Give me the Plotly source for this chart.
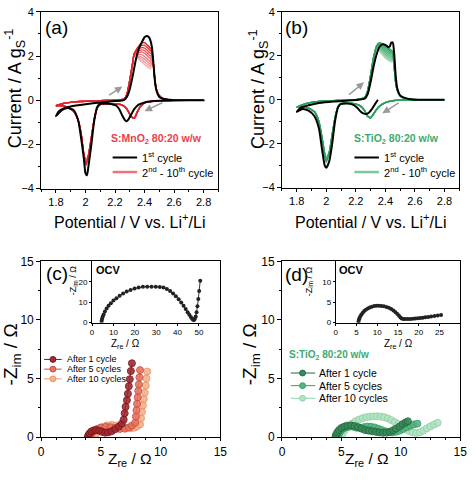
import plotly.graph_objects as go

# ---------------- DATA ----------------
# Panel (a): S:MnO2, 1st cycle
E_a1 = [2.80, 2.60, 2.50, 2.45, 2.40, 2.36, 2.33, 2.31, 2.29, 2.28, 2.27, 2.25, 2.23, 2.21, 2.18, 2.14, 2.10, 2.08,
        2.06, 2.04, 2.02, 2.01, 2.00, 1.99, 1.97, 1.95, 1.92, 1.88, 1.84, 1.80, 1.82, 1.86, 1.90, 2.00, 2.10, 2.20,
        2.26, 2.28, 2.30, 2.32, 2.34, 2.36, 2.38, 2.40, 2.41, 2.43, 2.44, 2.45, 2.46, 2.47, 2.48, 2.50, 2.55, 2.60, 2.80]
I_a1 = [0.0, -0.01, -0.03, -0.05, -0.1, -0.2, -0.4, -0.65, -0.88, -0.95, -0.92, -0.7, -0.42, -0.25, -0.18, -0.15,
        -0.17, -0.3, -0.9, -2.0, -3.0, -3.4, -3.3, -2.7, -1.7, -0.9, -0.45, -0.35, -0.45, -0.72, -0.5, -0.35, -0.28,
        -0.18, -0.1, -0.04, 0.0, 0.15, 0.5, 1.1, 1.8, 2.3, 2.6, 2.85, 2.9, 2.85, 2.7, 2.4, 1.7, 0.9, 0.45, 0.15,
        0.03, 0.0, 0.0]

# Panel (a): cycles 2-10, cathodic sweep (shared) with per-cycle 2.0 V peak
E_a_cath = [2.80, 2.60, 2.50, 2.45, 2.40, 2.37, 2.35, 2.33, 2.31, 2.29, 2.27, 2.24, 2.20, 2.15, 2.10, 2.08, 2.06,
            2.04, 2.02, 2.005, 1.99, 1.97, 1.95, 1.92, 1.88, 1.84, 1.80]
I_a_cath_head = [0.0, 0.0, -0.02, -0.05, -0.12, -0.3, -0.55, -0.82, -0.75, -0.5, -0.32, -0.2, -0.17, -0.16, -0.2,
                 -0.35, -0.85, -1.7, -2.5]
I_a_cath_tail = [-2.5, -1.5, -0.9, -0.5, -0.32, -0.25, -0.25]
a_peak_2V = [-2.95, -2.9, -2.85, -2.8, -2.76, -2.72, -2.68, -2.65, -2.62]
# anodic sweep: shared head / tail, per-cycle oxidation plateau
E_a_anod = [1.80, 1.85, 1.90, 2.00, 2.10, 2.20, 2.26, 2.28, 2.30, 2.32, 2.33,
            2.34, 2.36, 2.38, 2.40, 2.42, 2.44, 2.45,
            2.46, 2.47, 2.48, 2.50, 2.53, 2.58, 2.65, 2.80]
I_a_anod_head = [-0.25, -0.15, -0.1, -0.05, -0.02, 0.0, 0.05, 0.25, 0.9, 1.7, 2.1]
I_a_anod_tail = [1.6, 0.9, 0.5, 0.2, 0.06, 0.01, 0.0, 0.0]
a_plateau = [
    [2.25, 2.45, 2.58, 2.60, 2.50, 2.35, 2.25],
    [2.20, 2.38, 2.48, 2.48, 2.38, 2.24, 2.18],
    [2.18, 2.30, 2.38, 2.36, 2.25, 2.12, 2.12],
    [2.15, 2.22, 2.28, 2.24, 2.12, 2.00, 2.06],
    [2.12, 2.15, 2.18, 2.12, 2.00, 1.88, 2.00],
    [2.10, 2.08, 2.06, 1.98, 1.86, 1.75, 1.95],
    [2.08, 2.00, 1.95, 1.86, 1.74, 1.63, 1.90],
    [2.06, 1.93, 1.85, 1.74, 1.62, 1.52, 1.85],
    [2.04, 1.86, 1.74, 1.62, 1.50, 1.42, 1.80],
]

# Panel (b): S:TiO2, 1st cycle (starts at OCV)
E_b1 = [2.35, 2.33, 2.31, 2.29, 2.27, 2.25, 2.23, 2.21, 2.18, 2.14, 2.10, 2.08, 2.06, 2.04, 2.02, 2.00, 1.99, 1.97,
        1.95, 1.92, 1.88, 1.84, 1.80, 1.83, 1.88, 1.95, 2.05, 2.15, 2.22, 2.26, 2.28, 2.30, 2.32, 2.34, 2.36, 2.38,
        2.40, 2.42, 2.43, 2.44, 2.45, 2.46, 2.47, 2.48, 2.50, 2.55, 2.60, 2.80]
I_b1 = [0.0, -0.2, -0.42, -0.58, -0.65, -0.62, -0.52, -0.37, -0.22, -0.17, -0.19, -0.35, -0.95, -2.0, -2.8, -3.1,
        -3.0, -2.2, -1.3, -0.75, -0.5, -0.42, -0.55, -0.35, -0.25, -0.15, -0.08, -0.04, 0.0, 0.05, 0.25, 0.8, 1.5,
        2.05, 2.4, 2.52, 2.5, 2.4, 2.42, 2.6, 2.6, 2.1, 1.1, 0.55, 0.2, 0.05, 0.0, 0.0]

E_b_cath = [2.80, 2.60, 2.50, 2.45, 2.40, 2.36, 2.34, 2.32, 2.30, 2.28, 2.26, 2.23, 2.20, 2.15, 2.10, 2.08, 2.06,
            2.04, 2.02, 2.00, 1.99, 1.97, 1.95, 1.92, 1.88, 1.84, 1.80]
I_b_cath_head = [0.0, 0.0, -0.02, -0.05, -0.13, -0.3, -0.45, -0.65, -0.82, -0.75, -0.5, -0.28, -0.2, -0.16, -0.18,
                 -0.3, -0.8, -1.6, -2.4]
I_b_cath_tail = [-2.5, -1.7, -1.0, -0.55, -0.38, -0.32, -0.35]
b_peak_2V = [-2.85, -2.8, -2.76, -2.72, -2.7, -2.67, -2.65, -2.62, -2.6]
E_b_anod = [1.80, 1.85, 1.90, 2.00, 2.10, 2.20, 2.26, 2.28, 2.30, 2.32,
            2.34, 2.36, 2.38, 2.40, 2.42, 2.44, 2.45,
            2.46, 2.47, 2.48, 2.50, 2.53, 2.58, 2.65, 2.80]
I_b_anod_head = [-0.35, -0.2, -0.12, -0.06, -0.03, 0.0, 0.1, 0.4, 1.1, 1.9]
I_b_anod_tail = [1.5, 0.8, 0.45, 0.18, 0.05, 0.01, 0.0, 0.0]
b_plateau = [
    [2.45, 2.60, 2.55, 2.45, 2.35, 2.25, 2.20],
    [2.42, 2.55, 2.48, 2.38, 2.28, 2.18, 2.15],
    [2.40, 2.50, 2.42, 2.30, 2.20, 2.10, 2.10],
    [2.38, 2.45, 2.35, 2.22, 2.12, 2.02, 2.05],
    [2.36, 2.40, 2.28, 2.15, 2.04, 1.95, 2.00],
    [2.34, 2.35, 2.22, 2.08, 1.97, 1.88, 1.96],
    [2.32, 2.30, 2.16, 2.02, 1.90, 1.82, 1.92],
    [2.30, 2.25, 2.10, 1.96, 1.84, 1.77, 1.88],
    [2.28, 2.20, 2.05, 1.90, 1.80, 1.72, 1.85],
]

# Panel (c): EIS, S:MnO2
c1_x = [3.9, 3.95, 4.05, 4.2, 4.4, 4.6, 4.85, 5.1, 5.35, 5.6, 5.9, 6.2, 6.5, 6.75,
        6.91, 6.99, 7.07, 7.18, 7.26, 7.34, 7.42, 7.51, 7.6]
c1_y = [0.0, 0.15, 0.32, 0.48, 0.58, 0.6, 0.55, 0.45, 0.38, 0.4, 0.5, 0.68, 0.9, 1.15,
        1.49, 2.04, 2.59, 3.15, 3.7, 4.34, 4.94, 5.64, 6.3]
c5_x = [4.1, 4.2, 4.4, 4.7, 5.0, 5.4, 5.8, 6.2, 6.6, 7.0, 7.35, 7.6,
        7.87, 7.93, 7.98, 8.03, 8.08, 8.13, 8.18, 8.23, 8.28]
c5_y = [0.0, 0.25, 0.5, 0.7, 0.82, 0.88, 0.85, 0.78, 0.7, 0.72, 0.82, 0.98,
        1.22, 1.75, 2.3, 2.85, 3.4, 3.95, 4.5, 5.1, 5.72]
c10_x = [4.5, 4.6, 4.8, 5.1, 5.5, 5.9, 6.3, 6.7, 7.1, 7.5, 7.8, 8.05,
         8.28, 8.36, 8.44, 8.52, 8.6, 8.68, 8.76, 8.82, 8.88]
c10_y = [0.0, 0.3, 0.6, 0.85, 1.0, 1.05, 1.0, 0.9, 0.8, 0.75, 0.8, 0.92,
         1.08, 1.6, 2.15, 2.7, 3.25, 3.8, 4.4, 5.0, 5.6]
c_ocv_x = [4.4, 4.5, 4.7, 5.0, 5.4, 6.0, 6.8, 7.7, 8.8, 10.0, 11.4, 12.9, 14.5, 16.2, 18.0, 19.9, 21.8, 23.8, 25.8,
           27.8, 29.8, 31.7, 33.4, 35.0, 36.5, 37.9, 39.2, 40.5, 41.7, 42.8, 43.8, 44.7, 45.5, 46.2, 46.8, 47.3,
           47.7, 48.1, 48.5, 48.9, 49.3, 49.7, 50.1, 50.6]
c_ocv_y = [0.0, 1.0, 2.0, 3.0, 4.0, 5.4, 6.9, 8.2, 9.5, 10.8, 11.9, 13.1, 14.2, 15.2, 16.0, 16.7, 17.2, 17.5, 17.6,
           17.6, 17.5, 17.4, 17.2, 16.5, 15.5, 14.3, 12.9, 11.4, 9.8, 8.2, 6.6, 5.1, 3.8, 2.7, 1.9, 1.4, 1.3, 1.8,
           3.0, 5.0, 8.0, 11.5, 15.5, 20.5]

# Panel (d): EIS, S:TiO2
d1_x = [4.5, 4.55, 4.65, 4.8, 5.0, 5.25, 5.5, 5.8, 6.1, 6.4, 6.7, 7.0, 7.3, 7.6, 7.9, 8.2, 8.5, 8.8, 9.1, 9.35,
        9.6, 9.9, 10.15, 10.4, 10.6]
d1_y = [0.0, 0.2, 0.4, 0.6, 0.78, 0.9, 0.98, 1.0, 0.95, 0.85, 0.72, 0.6, 0.55, 0.5, 0.45, 0.4, 0.37, 0.38, 0.45,
        0.58, 0.72, 0.9, 1.1, 1.25, 1.35]
d5_x = [4.7, 4.75, 4.85, 5.0, 5.2, 5.45, 5.7, 6.0, 6.3, 6.6, 6.9, 7.2, 7.5, 7.8, 8.1, 8.4, 8.7, 9.0, 9.3, 9.6,
        9.9, 10.2, 10.5, 10.8, 11.1, 11.4]
d5_y = [0.0, 0.2, 0.4, 0.6, 0.75, 0.85, 0.9, 0.88, 0.8, 0.78, 0.85, 0.9, 0.88, 0.82, 0.72, 0.6, 0.5, 0.42, 0.4,
        0.45, 0.55, 0.7, 0.85, 0.98, 1.08, 1.15]
d10_x = [5.0, 5.1, 5.3, 5.6, 5.9, 6.2, 6.5, 6.8, 7.1, 7.4, 7.7, 8.0, 8.3, 8.6, 8.9, 9.2, 9.5, 9.8, 10.1, 10.4,
         10.7, 11.0, 11.3, 11.6, 11.9, 12.2, 12.5, 12.8, 13.1]
d10_y = [0.0, 0.3, 0.6, 0.9, 1.15, 1.35, 1.5, 1.62, 1.7, 1.75, 1.77, 1.77, 1.75, 1.7, 1.6, 1.45, 1.28, 1.1, 0.9,
         0.7, 0.52, 0.4, 0.35, 0.4, 0.55, 0.75, 0.92, 1.08, 1.22]
d_ocv_x = [5.45, 5.5, 5.6, 5.75, 5.95, 6.2, 6.5, 6.85, 7.25, 7.7, 8.2, 8.7, 9.25, 9.8, 10.4, 11.0, 11.6, 12.2, 12.8,
           13.35, 13.9, 14.4, 14.85, 15.25, 15.6, 15.9, 16.3, 16.8, 17.4, 18.0, 18.6, 19.2, 19.8, 20.4, 21.0, 21.6,
           22.3, 23.0, 23.8, 24.6, 25.4]
d_ocv_y = [0.0, 0.4, 0.8, 1.2, 1.6, 2.0, 2.4, 2.8, 3.15, 3.45, 3.7, 3.9, 4.03, 4.1, 4.12, 4.08, 3.98, 3.82, 3.6,
           3.3, 2.95, 2.55, 2.1, 1.65, 1.25, 0.98, 0.88, 0.85, 0.86, 0.88, 0.92, 0.97, 1.03, 1.1, 1.18, 1.27, 1.37,
           1.48, 1.6, 1.72, 1.82]

cv_ticks = [1.8, 2.0, 2.2, 2.4, 2.6, 2.8]
cur_ticks = [-4, -2, 0, 2, 4]
z_ticks = [0, 5, 10, 15]

# ---------------- STYLE ----------------
W, H = 474, 481
FONT = "Liberation Sans, Arial, Helvetica, sans-serif"
red_cols = ["#DF232C", "#E3343C", "#E7464D", "#EA575E", "#ED6970", "#EF7A80", "#F18C91", "#F39DA1", "#F5AEB1"]
grn_cols = ["#2C9D5E", "#38A568", "#47AD73", "#56B57E", "#66BD8A", "#77C596", "#88CDA2", "#99D5AE", "#AADDBA"]


def px(x):
    return x / W


def py(y):
    return 1 - y / H


fig = go.Figure()

# --- panel (a) cycles 2-10 (draw faint ones first)
for k in reversed(range(9)):
    E = E_a_cath + E_a_anod
    I = I_a_cath_head + [a_peak_2V[k]] + I_a_cath_tail + I_a_anod_head + a_plateau[k] + I_a_anod_tail
    fig.add_trace(go.Scatter(x=E, y=I, mode="lines", line=dict(color=red_cols[k], width=1.4, shape="spline",
                                                                 smoothing=0.6),
                             xaxis="x", yaxis="y", showlegend=False, hoverinfo="skip"))
fig.add_trace(go.Scatter(x=E_a1, y=I_a1, mode="lines", line=dict(color="black", width=2, shape="spline",
                                                                   smoothing=0.6),
                         xaxis="x", yaxis="y", showlegend=False))

# --- panel (b)
for k in reversed(range(9)):
    E = E_b_cath + E_b_anod
    I = I_b_cath_head + [b_peak_2V[k]] + I_b_cath_tail + I_b_anod_head + b_plateau[k] + I_b_anod_tail
    fig.add_trace(go.Scatter(x=E, y=I, mode="lines", line=dict(color=grn_cols[k], width=1.4, shape="spline",
                                                                 smoothing=0.6),
                             xaxis="x2", yaxis="y2", showlegend=False, hoverinfo="skip"))
fig.add_trace(go.Scatter(x=E_b1, y=I_b1, mode="lines", line=dict(color="black", width=2, shape="spline",
                                                                   smoothing=0.6),
                         xaxis="x2", yaxis="y2", showlegend=False))

# --- panel (c)
eis_c = [(c10_x, c10_y, "#F4B48F", "#E8956A"), (c5_x, c5_y, "#E8735F", "#C9503E"),
         (c1_x, c1_y, "#A32A32", "#7A141C")]
for xs, ys, fc, lc in eis_c:
    fig.add_trace(go.Scatter(x=xs, y=ys, mode="lines+markers", line=dict(color=lc, width=1),
                             marker=dict(size=7, color=fc, line=dict(color=lc, width=1), opacity=0.9),
                             xaxis="x3", yaxis="y3", showlegend=False))
fig.add_trace(go.Scatter(x=c_ocv_x, y=c_ocv_y, mode="lines+markers", line=dict(color="black", width=0.8),
                         marker=dict(size=4, color="#222222"), xaxis="x5", yaxis="y5", showlegend=False))

# --- panel (d)
eis_d = [(d10_x, d10_y, "#B4E4C4", "#8FD2A7"), (d5_x, d5_y, "#55B883", "#3A9C67"),
         (d1_x, d1_y, "#3A8A5A", "#226B40")]
for xs, ys, fc, lc in eis_d:
    fig.add_trace(go.Scatter(x=xs, y=ys, mode="lines+markers", line=dict(color=lc, width=1),
                             marker=dict(size=7, color=fc, line=dict(color=lc, width=1), opacity=0.9),
                             xaxis="x4", yaxis="y4", showlegend=False))
fig.add_trace(go.Scatter(x=d_ocv_x, y=d_ocv_y, mode="lines+markers", line=dict(color="black", width=0.8),
                         marker=dict(size=4, color="#222222"), xaxis="x6", yaxis="y6", showlegend=False))


# ---------------- AXES ----------------
def ax(domain, anchor, rng, tickvals, minor_dt, tfs=11, ticklen=4):
    return dict(domain=domain, anchor=anchor, range=rng, tickvals=tickvals, ticks="outside", ticklen=ticklen,
                tickwidth=1, tickcolor="black", showline=True, linecolor="black", linewidth=1, mirror=True,
                showgrid=False, zeroline=False, tickfont=dict(family=FONT, size=tfs, color="black"),
                minor=dict(dtick=minor_dt, ticks="outside", ticklen=2, tickcolor="black", showgrid=False)
                if minor_dt else None)


layout = dict(
    width=W, height=H, margin=dict(l=0, r=0, t=0, b=0), paper_bgcolor="white", plot_bgcolor="white",
    font=dict(family=FONT, color="black"), showlegend=False,
    xaxis=ax([px(39), px(220)], "y", [1.7, 2.9], cv_ticks, 0.1, 11, 3),
    yaxis=ax([py(187), py(5)], "x", [-4, 4], cur_ticks, 1),
    xaxis2=ax([px(285), px(466)], "y2", [1.7, 2.9], cv_ticks, 0.1, 11, 3),
    yaxis2=ax([py(186), py(5)], "x2", [-4, 4], cur_ticks, 1),
    xaxis3=ax([px(39), px(222)], "y3", [0, 15], z_ticks, 1.25, 12, 3),
    yaxis3=ax([py(443), py(262)], "x3", [0, 15], z_ticks, 2.5, 12),
    xaxis4=ax([px(285), px(467)], "y4", [0, 15], z_ticks, 1.25, 12, 3),
    yaxis4=ax([py(443), py(262)], "x4", [0, 15], z_ticks, 2.5, 12),
    xaxis5=ax([px(91), px(222)], "y5", [0, 60], [0, 10, 20, 30, 40, 50], None, 8, 2),
    yaxis5=ax([py(325), py(262)], "x5", [0, 30], [0, 10, 20], None, 8, 2),
    xaxis6=ax([px(340), px(467)], "y6", [0, 30], [0, 5, 10, 15, 20, 25], None, 8, 2),
    yaxis6=ax([py(325), py(262)], "x6", [0, 15], [0, 5, 10], None, 8, 2),
)
fig.update_layout(**layout)

# ---------------- TEXT ----------------
ann = []


def txt(x, y, s, size, angle=0, color="black", bold=False, xanchor="center"):
    if bold:
        s = "<b>" + s + "</b>"
    ann.append(dict(x=px(x), y=py(y), xref="paper", yref="paper", text=s, showarrow=False, textangle=angle,
                    xanchor=xanchor, yanchor="middle", font=dict(family=FONT, size=size, color=color)))


# axis titles
txt(130, 220, "Potential / V vs. Li<sup>+</sup>/Li", 16)
txt(376, 220, "Potential / V vs. Li<sup>+</sup>/Li", 16)
txt(12, 84, "Current / A g<sub>S</sub><sup>-1</sup>", 18, -90)
txt(261, 84, "Current / A g<sub>S</sub><sup>-1</sup>", 18, -90)
txt(130, 466, "Z<sub>re</sub> / Ω", 15.5)
txt(372, 466, "Z<sub>re</sub> / Ω", 15.5)
txt(9, 358, "-Z<sub>im</sub> / Ω", 19, -90)
txt(253, 358, "-Z<sub>im</sub> / Ω", 19, -90)
# inset titles
txt(125, 347, "Z<sub>re</sub> / Ω", 10)
txt(404, 347, "Z<sub>re</sub> / Ω", 10)
txt(72, 281, "-Z<sub>im</sub> / Ω", 9, -90)
txt(313, 282, "-Z<sub>im</sub> / Ω", 9, -90)
txt(108, 271, "OCV", 11, bold=True)
txt(356, 271, "OCV", 11, bold=True)
# panel labels
txt(55, 21, "(a)", 19)
txt(300, 21, "(b)", 19)
txt(55, 275, "(c)", 19)
txt(300, 276, "(d)", 19)
# material labels
txt(157, 136, "S:MnO<sub>2</sub> 80:20 w/w", 10.5, color="#E8414A", bold=True)
txt(402, 136, "S:TiO<sub>2</sub> 80:20 w/w", 10.5, color="#3DAA6D", bold=True)
txt(333, 358, "S:TiO<sub>2</sub> 80:20 w/w", 10, color="#3DAA6D", bold=True)

# legends (a), (b)
shapes = []


def legline(x0, x1, y, color, width=2):
    shapes.append(dict(type="line", xref="paper", yref="paper", x0=px(x0), x1=px(x1), y0=py(y), y1=py(y),
                       line=dict(color=color, width=width)))


def legdot(x, y, fc, lc, r=3):
    shapes.append(dict(type="circle", xref="paper", yref="paper", x0=px(x - r), x1=px(x + r), y0=py(y + r),
                       y1=py(y - r), fillcolor=fc, line=dict(color=lc, width=1)))


legline(112, 137, 155, "black", 2)
legline(112, 137, 170, "#EF7077", 2.5)
txt(140, 155, "1<sup>st</sup> cycle", 11, xanchor="left")
txt(140, 170, "2<sup>nd</sup> - 10<sup>th</sup> cycle", 11, xanchor="left")
legline(359, 384, 155, "black", 2)
legline(359, 384, 170, "#7CC99C", 2.5)
txt(387, 155, "1<sup>st</sup> cycle", 11, xanchor="left")
txt(387, 170, "2<sup>nd</sup> - 10<sup>th</sup> cycle", 11, xanchor="left")

# legends (c), (d)
c_leg = [(363, "After 1 cycle", "#A32A32", "#7A141C"), (373, "After 5 cycles", "#E8735F", "#C9503E"),
         (383, "After 10 cycles", "#F4B48F", "#E8956A")]
for y, s, fc, lc in c_leg:
    legline(42, 60, y, lc, 1)
    legdot(51, y, fc, lc)
    txt(63, y, s, 9, xanchor="left")
d_leg = [(377, "After 1 cycle", "#3A8A5A", "#226B40"), (390, "After 5 cycles", "#55B883", "#3A9C67"),
         (403, "After 10 cycles", "#B4E4C4", "#8FD2A7")]
for y, s, fc, lc in d_leg:
    legline(294, 319, y, lc, 1)
    legdot(306, y, fc, lc)
    txt(321, y, s, 10.5, xanchor="left")

# scan-direction arrows
arrows = [("x", "y", 2.25, 0.62, 2.15, 0.18), ("x", "y", 2.40, -0.5, 2.53, -0.08),
          ("x2", "y2", 2.256, 0.79, 2.144, 0.18), ("x2", "y2", 2.38, -0.62, 2.50, -0.1)]
for xr, yr, x, y, axx, ayy in arrows:
    ann.append(dict(x=x, y=y, ax=axx, ay=ayy, xref=xr, yref=yr, axref=xr, ayref=yr, showarrow=True,
                    arrowhead=2, arrowsize=1, arrowwidth=1.5, arrowcolor="#9A9A9A", text=""))

fig.update_layout(annotations=ann, shapes=shapes)
fig.write_html("out.html")
